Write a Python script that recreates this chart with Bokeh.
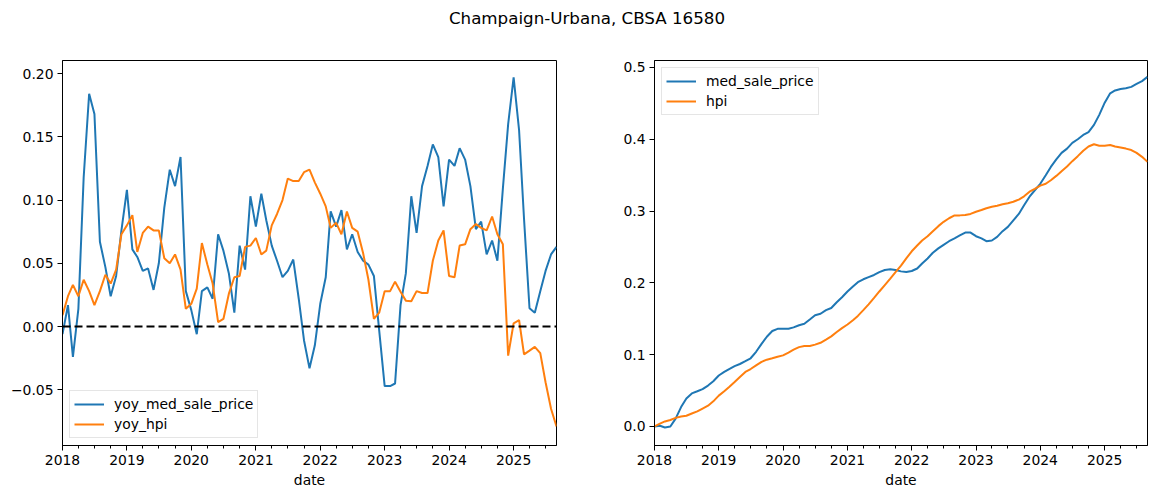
import pandas as pd
from bokeh.plotting import figure
from bokeh.layouts import column, row
from bokeh.models import Div, Span, FixedTicker, CustomJSTickFormatter, Range1d
from bokeh.embed import file_html
from bokeh.resources import INLINE

TITLE = "Champaign-Urbana, CBSA 16580"
START_MONTH = "2018-01-01"
N_MONTHS = 93
YEAR_LABELS = ["2018", "2019", "2020", "2021", "2022", "2023", "2024", "2025"]

dates = pd.date_range(START_MONTH, periods=N_MONTHS, freq="MS")

# year-over-year change
yoy_med_sale_price = [
    -0.006, 0.017, -0.024, 0.014, 0.118, 0.184, 0.168, 0.067, 0.047, 0.024,
    0.040, 0.076, 0.108, 0.061, 0.055, 0.044, 0.046, 0.029, 0.050, 0.094,
    0.124, 0.111, 0.134, 0.028, 0.013, -0.006, 0.028, 0.031, 0.022, 0.073,
    0.060, 0.042, 0.011, 0.064, 0.045, 0.103, 0.079, 0.105, 0.084, 0.064,
    0.052, 0.039, 0.044, 0.053, 0.022, -0.011, -0.033, -0.015, 0.018, 0.039,
    0.091, 0.079, 0.092, 0.061, 0.073, 0.059, 0.052, 0.049, 0.040, -0.003,
    -0.047, -0.047, -0.045, 0.017, 0.042, 0.103, 0.074, 0.111, 0.127, 0.144,
    0.134, 0.095, 0.132, 0.127, 0.141, 0.132, 0.111, 0.077, 0.083, 0.057,
    0.068, 0.052, 0.109, 0.160, 0.197, 0.155, 0.085, 0.0145, 0.011, 0.028,
    0.044, 0.057, 0.063,
]
yoy_hpi = [
    0.009, 0.024, 0.033, 0.024, 0.037, 0.028, 0.017, 0.028, 0.041, 0.034,
    0.045, 0.073, 0.080, 0.088, 0.059, 0.074, 0.079, 0.076, 0.076, 0.054,
    0.050, 0.057, 0.045, 0.014, 0.018, 0.030, 0.066, 0.049, 0.034, 0.0035,
    0.006, 0.026, 0.039, 0.040, 0.063, 0.064, 0.070, 0.057, 0.060, 0.080,
    0.089, 0.100, 0.117, 0.115, 0.115, 0.122, 0.124, 0.114, 0.105, 0.095,
    0.078, 0.082, 0.073, 0.091, 0.078, 0.075, 0.058, 0.037, 0.006, 0.011,
    0.028, 0.028, 0.0355, 0.0275, 0.0205, 0.020, 0.028, 0.0265, 0.0265, 0.052,
    0.068, 0.076, 0.040, 0.039, 0.064, 0.065, 0.077, 0.081, 0.078, 0.076,
    0.087, 0.073, 0.065, -0.023, 0.0026, 0.005, -0.022, -0.019, -0.016, -0.021,
    -0.044, -0.065, -0.079,
]

# cumulative change since January 2018
med_sale_price = [
    0.0, 0.001, -0.0015, 0.0, 0.011, 0.027, 0.039, 0.046, 0.049, 0.052,
    0.057, 0.063, 0.071, 0.076, 0.080, 0.084, 0.087, 0.091, 0.095, 0.104,
    0.115, 0.125, 0.133, 0.136, 0.136, 0.136, 0.138, 0.141, 0.143, 0.149,
    0.155, 0.157, 0.162, 0.165, 0.173, 0.180, 0.188, 0.195, 0.201, 0.205,
    0.208, 0.211, 0.215, 0.218, 0.219, 0.218, 0.216, 0.215, 0.2165, 0.220,
    0.227, 0.234, 0.242, 0.248, 0.253, 0.258, 0.262, 0.266, 0.270, 0.270,
    0.265, 0.262, 0.258, 0.259, 0.264, 0.272, 0.278, 0.287, 0.296, 0.308,
    0.320, 0.329, 0.338, 0.350, 0.3615, 0.372, 0.381, 0.387, 0.395, 0.400,
    0.406, 0.410, 0.420, 0.434, 0.451, 0.464, 0.468, 0.470, 0.471, 0.473,
    0.477, 0.481, 0.487,
]
hpi = [
    0.0, 0.004, 0.007, 0.009, 0.012, 0.014, 0.015, 0.018, 0.021, 0.025,
    0.029, 0.035, 0.043, 0.049, 0.055, 0.062, 0.069, 0.076, 0.080, 0.085,
    0.090, 0.093, 0.095, 0.097, 0.099, 0.103, 0.107, 0.1105, 0.112, 0.112,
    0.114, 0.1165, 0.121, 0.1255, 0.1315, 0.137, 0.142, 0.148, 0.154, 0.162,
    0.170, 0.179, 0.188, 0.197, 0.206, 0.215, 0.224, 0.234, 0.244, 0.252,
    0.259, 0.265, 0.272, 0.279, 0.285, 0.290, 0.294, 0.294, 0.2945, 0.296,
    0.299, 0.3015, 0.304, 0.306, 0.3075, 0.3095, 0.311, 0.313, 0.316, 0.3205,
    0.327, 0.331, 0.3355, 0.338, 0.343, 0.349, 0.3555, 0.362, 0.3695, 0.3765,
    0.384, 0.390, 0.393, 0.391, 0.391, 0.392, 0.390, 0.3885, 0.387, 0.385,
    0.381, 0.3755, 0.3685,
]

BLUE = "#1f77b4"
ORANGE = "#ff7f0e"
FONT = "DejaVu Sans"
FS = "13.9px"


def ms(ts):
    return pd.Timestamp(ts).value / 1e6


year_ticks = [ms(f"{y}-01-01") for y in YEAR_LABELS]
quarter_ticks = [ms(d) for d in pd.date_range(START_MONTH, dates[-1], freq="QS")]
x_range_ms = (ms(dates[0]), ms(dates[-1]))


def style(p, yticks, ydigits):
    p.x_range = Range1d(*x_range_ms)
    p.outline_line_color = "black"
    p.outline_line_width = 1
    p.xgrid.visible = False
    p.ygrid.visible = False
    p.background_fill_color = "white"
    p.border_fill_color = "white"

    xa = p.xaxis[0]
    xa.ticker = FixedTicker(ticks=year_ticks, minor_ticks=quarter_ticks)
    xa.formatter = CustomJSTickFormatter(code="return String(new Date(tick).getUTCFullYear());")
    xa.axis_label = "date"

    ya = p.yaxis[0]
    ya.ticker = FixedTicker(ticks=yticks)
    ya.formatter = CustomJSTickFormatter(
        args=dict(d=ydigits),
        code="const v = Math.abs(tick) < 1e-12 ? 0 : tick;"
             "return (v < 0 ? '\u2212' : '') + Math.abs(v).toFixed(d);",
    )

    for ax in (xa, ya):
        ax.axis_line_color = "black"
        ax.major_tick_line_color = "black"
        ax.minor_tick_line_color = "black"
        ax.major_tick_in = 0
        ax.major_tick_out = 5
        ax.minor_tick_in = 0
        ax.minor_tick_out = 3
        ax.major_label_text_font = FONT
        ax.major_label_text_font_size = FS
        ax.major_label_text_color = "black"
        ax.axis_label_text_font = FONT
        ax.axis_label_text_font_size = FS
        ax.axis_label_text_font_style = "normal"
        ax.axis_label_text_color = "black"
        ax.major_label_standoff = 4
        ax.axis_label_standoff = 4
    ya.minor_tick_out = 0


def style_legend(p, location):
    lg = p.legend[0]
    lg.location = location
    lg.margin = 7
    lg.padding = 4
    lg.spacing = 2
    lg.label_height = 18
    lg.glyph_height = 18
    lg.glyph_width = 30
    lg.label_standoff = 10
    lg.label_text_font = FONT
    lg.label_text_font_size = FS
    lg.label_text_color = "black"
    lg.border_line_color = "#cccccc"
    lg.border_line_width = 1
    lg.background_fill_color = "white"
    lg.background_fill_alpha = 0.8


# left: year-over-year change
p1 = figure(width=600, height=462, x_axis_type="datetime",
            output_backend="svg", toolbar_location=None,
            y_range=Range1d(-0.094, 0.2103),
            min_border_left=62, min_border_right=44,
            min_border_top=24, min_border_bottom=53)
style(p1, [-0.05, 0.0, 0.05, 0.10, 0.15, 0.20], 2)
p1.line(dates, yoy_med_sale_price, color=BLUE, line_width=2, legend_label="yoy_med_sale_price")
p1.line(dates, yoy_hpi, color=ORANGE, line_width=2, legend_label="yoy_hpi")
p1.add_layout(Span(location=0, dimension="width", line_color="black",
                   line_width=2, line_dash="8 4"))
style_legend(p1, "bottom_left")

# right: cumulative change
p2 = figure(width=556, height=462, x_axis_type="datetime",
            output_backend="svg", toolbar_location=None,
            y_range=Range1d(-0.0265, 0.5097),
            min_border_left=54, min_border_right=9,
            min_border_top=24, min_border_bottom=53)
style(p2, [0.0, 0.1, 0.2, 0.3, 0.4, 0.5], 1)
p2.line(dates, med_sale_price, color=BLUE, line_width=2, legend_label="med_sale_price")
p2.line(dates, hpi, color=ORANGE, line_width=2, legend_label="hpi")
style_legend(p2, "top_left")

title = Div(
    text=f"<div style=\"width:1156px;box-sizing:border-box;padding-left:18px;"
         f"text-align:center;font-family:'{FONT}';"
         f"font-size:16.7px;line-height:36px;color:black\">{TITLE}</div>",
    width=1156, height=36, margin=0,
)

layout = column(title, row(p1, p2, spacing=0), spacing=0)

open("out.html", "w").write(file_html(layout, INLINE))
